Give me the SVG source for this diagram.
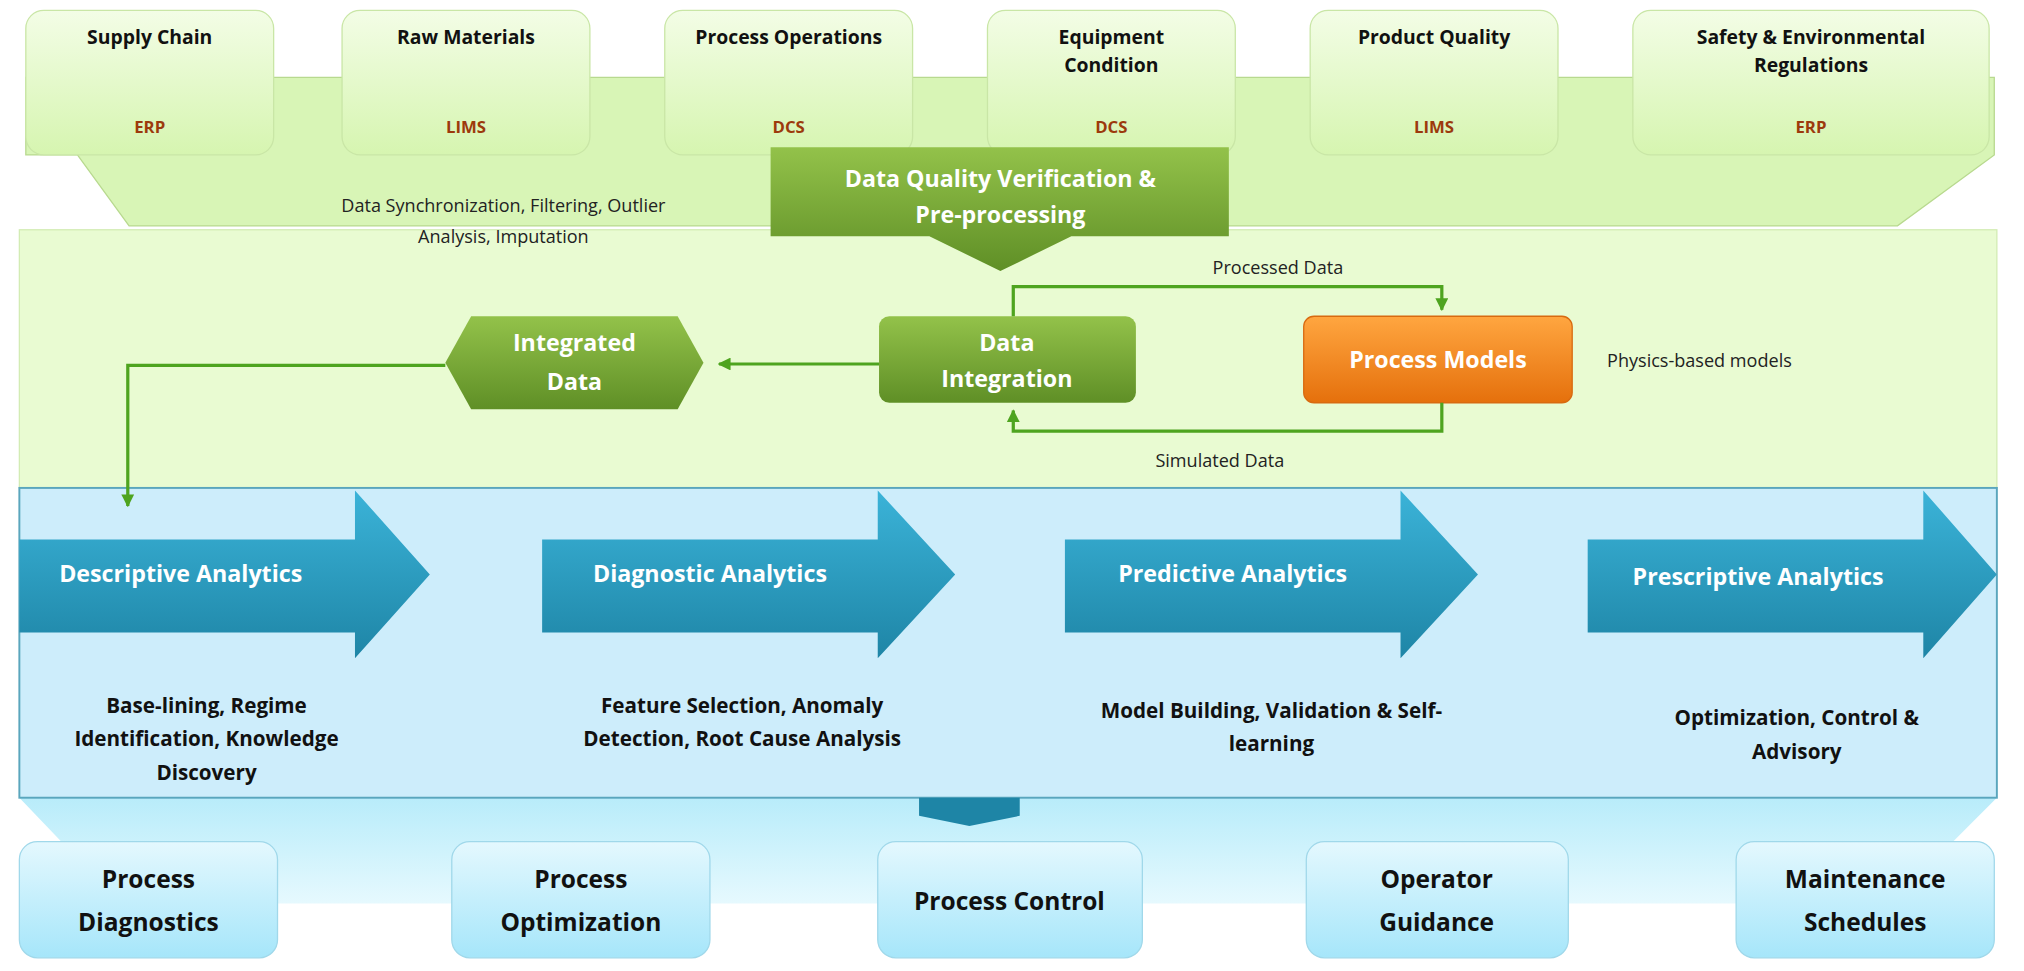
<svg xmlns="http://www.w3.org/2000/svg" width="2024" height="971" viewBox="0 0 2024 971">
<defs>
<linearGradient id="gTop" x1="0" y1="0" x2="0" y2="1"><stop offset="0" stop-color="#f3fde6"/><stop offset="1" stop-color="#d6f5b0"/></linearGradient>
<linearGradient id="gNode" x1="0" y1="0" x2="0" y2="1"><stop offset="0" stop-color="#93c24a"/><stop offset="1" stop-color="#5f8f26"/></linearGradient>
<linearGradient id="gOr" x1="0" y1="0" x2="0" y2="1"><stop offset="0" stop-color="#ffa640"/><stop offset="1" stop-color="#e5700c"/></linearGradient>
<linearGradient id="gArr" x1="0" y1="0" x2="0" y2="1"><stop offset="0" stop-color="#3bb3d8"/><stop offset="1" stop-color="#1e85a6"/></linearGradient>
<linearGradient id="gBot" x1="0" y1="0" x2="0" y2="1"><stop offset="0" stop-color="#e4f8fe"/><stop offset="1" stop-color="#a6e6fa"/></linearGradient>
<linearGradient id="gBand" x1="0" y1="0" x2="0" y2="1"><stop offset="0" stop-color="#b8ecfa"/><stop offset="1" stop-color="#e6f9fe"/></linearGradient>
<marker id="ah" viewBox="0 0 10 10" refX="9" refY="5" markerWidth="4" markerHeight="4" orient="auto"><path d="M0,0 L10,5 L0,10 z" fill="#4ea41f"/></marker>
</defs>
<style>
.t{font-family:"Open Sans","Liberation Sans",sans-serif;font-weight:bold;font-size:15px;fill:#111;text-anchor:middle}
.s{font-family:"Open Sans","Liberation Sans",sans-serif;font-weight:bold;font-size:13px;fill:#9c3a0c;text-anchor:middle}
.w{font-family:"Open Sans","Liberation Sans",sans-serif;font-weight:bold;font-size:18px;fill:#fff;text-anchor:middle}
.n{font-family:"Open Sans","Liberation Sans",sans-serif;font-size:14px;fill:#222;text-anchor:middle}
.b{font-family:"Open Sans","Liberation Sans",sans-serif;font-weight:bold;font-size:16px;fill:#111;text-anchor:middle}
.bb{font-family:"Open Sans","Liberation Sans",sans-serif;font-weight:bold;font-size:19px;fill:#111;text-anchor:middle}
.top{fill:url(#gTop);stroke:#c9e6a6;stroke-width:1}
.bot{fill:url(#gBot);stroke:#a0d8ea;stroke-width:1}
.c{fill:none;stroke:#4ea41f;stroke-width:2.5}
</style>
<rect width="2024" height="971" fill="#fff"/>
<g transform="scale(1.2908)">
<path d="M20,60 L1545,60 L1545,120 L1470,175 L100,175 L60,120 L20,120 Z" fill="#d8f5b6" stroke="#b8d98f"/>
<rect x="15" y="178" width="1532" height="200" fill="#e9fbd2" stroke="#d3ecb4"/>
<path d="M15,618 L1547,618 L1500,665 L1500,700 L60,700 L60,665 Z" fill="url(#gBand)"/>
<rect x="15" y="378" width="1532" height="240" fill="#cdedfb" stroke="#5aa6bd" stroke-width="1.5"/>
<path d="M712,618 L790,618 L790,632 L751,640 L712,632 Z" fill="#1e85a6"/>
<g id="n-supply"><rect class="top" x="20" y="8" width="192" height="112" rx="14"/><text class="t" x="116" y="34">Supply Chain</text><text class="s" x="116" y="103">ERP</text></g>
<g id="n-raw"><rect class="top" x="265" y="8" width="192" height="112" rx="14"/><text class="t" x="361" y="34">Raw Materials</text><text class="s" x="361" y="103">LIMS</text></g>
<g id="n-procops"><rect class="top" x="515" y="8" width="192" height="112" rx="14"/><text class="t" x="611" y="34">Process Operations</text><text class="s" x="611" y="103">DCS</text></g>
<g id="n-equip"><rect class="top" x="765" y="8" width="192" height="112" rx="14"/><text class="t" x="861" y="34">Equipment</text><text class="t" x="861" y="56">Condition</text><text class="s" x="861" y="103">DCS</text></g>
<g id="n-quality"><rect class="top" x="1015" y="8" width="192" height="112" rx="14"/><text class="t" x="1111" y="34">Product Quality</text><text class="s" x="1111" y="103">LIMS</text></g>
<g id="n-safety"><rect class="top" x="1265" y="8" width="276" height="112" rx="14"/><text class="t" x="1403" y="34">Safety &amp; Environmental</text><text class="t" x="1403" y="56">Regulations</text><text class="s" x="1403" y="103">ERP</text></g>
<g id="n-dqv"><path d="M597,114 H952 V183 H830 L775,210 L720,183 H597 Z" fill="url(#gNode)"/><text class="w" x="775" y="145">Data Quality Verification &amp;</text><text class="w" x="775" y="173">Pre-processing</text></g>
<text class="n" x="390" y="164">Data Synchronization, Filtering, Outlier</text>
<text class="n" x="390" y="188">Analysis, Imputation</text>
<g id="n-integ"><rect x="681" y="245" width="199" height="67" rx="8" fill="url(#gNode)"/><text class="w" x="780" y="272">Data</text><text class="w" x="780" y="300">Integration</text></g>
<g id="n-pm"><rect x="1010" y="245" width="208" height="67" rx="8" fill="url(#gOr)" stroke="#d86a10"/><text class="w" x="1114" y="285">Process Models</text></g>
<text class="n" x="1245" y="284" style="text-anchor:start">Physics-based models</text>
<g id="n-intdata"><path d="M365,245 H525 L545,281 L525,317 H365 L345,281 Z" fill="url(#gNode)"/><text class="w" x="445" y="272">Integrated</text><text class="w" x="445" y="302">Data</text></g>
<g id="connectors">
<path class="c" d="M681,282 H557" marker-end="url(#ah)"/>
<path class="c" d="M785,245 V222 H1117 V240" marker-end="url(#ah)"/>
<path class="c" d="M1117,312 V334 H785 V318" marker-end="url(#ah)"/>
<path class="c" d="M345,283 H99 V392" marker-end="url(#ah)"/>
</g>
<text class="n" x="990" y="212">Processed Data</text>
<text class="n" x="945" y="362">Simulated Data</text>
<g id="n-desc"><path d="M15,418 H275 V380 L333,445 L275,510 V490 H15 Z" fill="url(#gArr)"/><text class="w" x="140" y="451">Descriptive Analytics</text><text class="b" x="160" y="552">Base-lining,  Regime</text><text class="b" x="160" y="578">Identification, Knowledge</text><text class="b" x="160" y="604">Discovery</text></g>
<g id="n-diag"><path d="M420,418 H680 V380 L740,445 L680,510 V490 H420 Z" fill="url(#gArr)"/><text class="w" x="550" y="451">Diagnostic Analytics</text><text class="b" x="575" y="552">Feature Selection, Anomaly</text><text class="b" x="575" y="578">Detection, Root Cause Analysis</text></g>
<g id="n-pred"><path d="M825,418 H1085 V380 L1145,445 L1085,510 V490 H825 Z" fill="url(#gArr)"/><text class="w" x="955" y="451">Predictive Analytics</text><text class="b" x="985" y="556">Model Building, Validation &amp; Self-</text><text class="b" x="985" y="582">learning</text></g>
<g id="n-presc"><path d="M1230,418 H1490 V380 L1547,445 L1490,510 V490 H1230 Z" fill="url(#gArr)"/><text class="w" x="1362" y="453">Prescriptive Analytics</text><text class="b" x="1392" y="562">Optimization, Control &amp;</text><text class="b" x="1392" y="588">Advisory</text></g>
<g id="n-pd"><rect class="bot" x="15" y="652" width="200" height="90" rx="14"/><text class="bb" x="115" y="688">Process</text><text class="bb" x="115" y="721">Diagnostics</text></g>
<g id="n-po"><rect class="bot" x="350" y="652" width="200" height="90" rx="14"/><text class="bb" x="450" y="688">Process</text><text class="bb" x="450" y="721">Optimization</text></g>
<g id="n-pc"><rect class="bot" x="680" y="652" width="205" height="90" rx="14"/><text class="bb" x="782" y="705">Process Control</text></g>
<g id="n-og"><rect class="bot" x="1012" y="652" width="203" height="90" rx="14"/><text class="bb" x="1113" y="688">Operator</text><text class="bb" x="1113" y="721">Guidance</text></g>
<g id="n-ms"><rect class="bot" x="1345" y="652" width="200" height="90" rx="14"/><text class="bb" x="1445" y="688">Maintenance</text><text class="bb" x="1445" y="721">Schedules</text></g>
</g>
</svg>
